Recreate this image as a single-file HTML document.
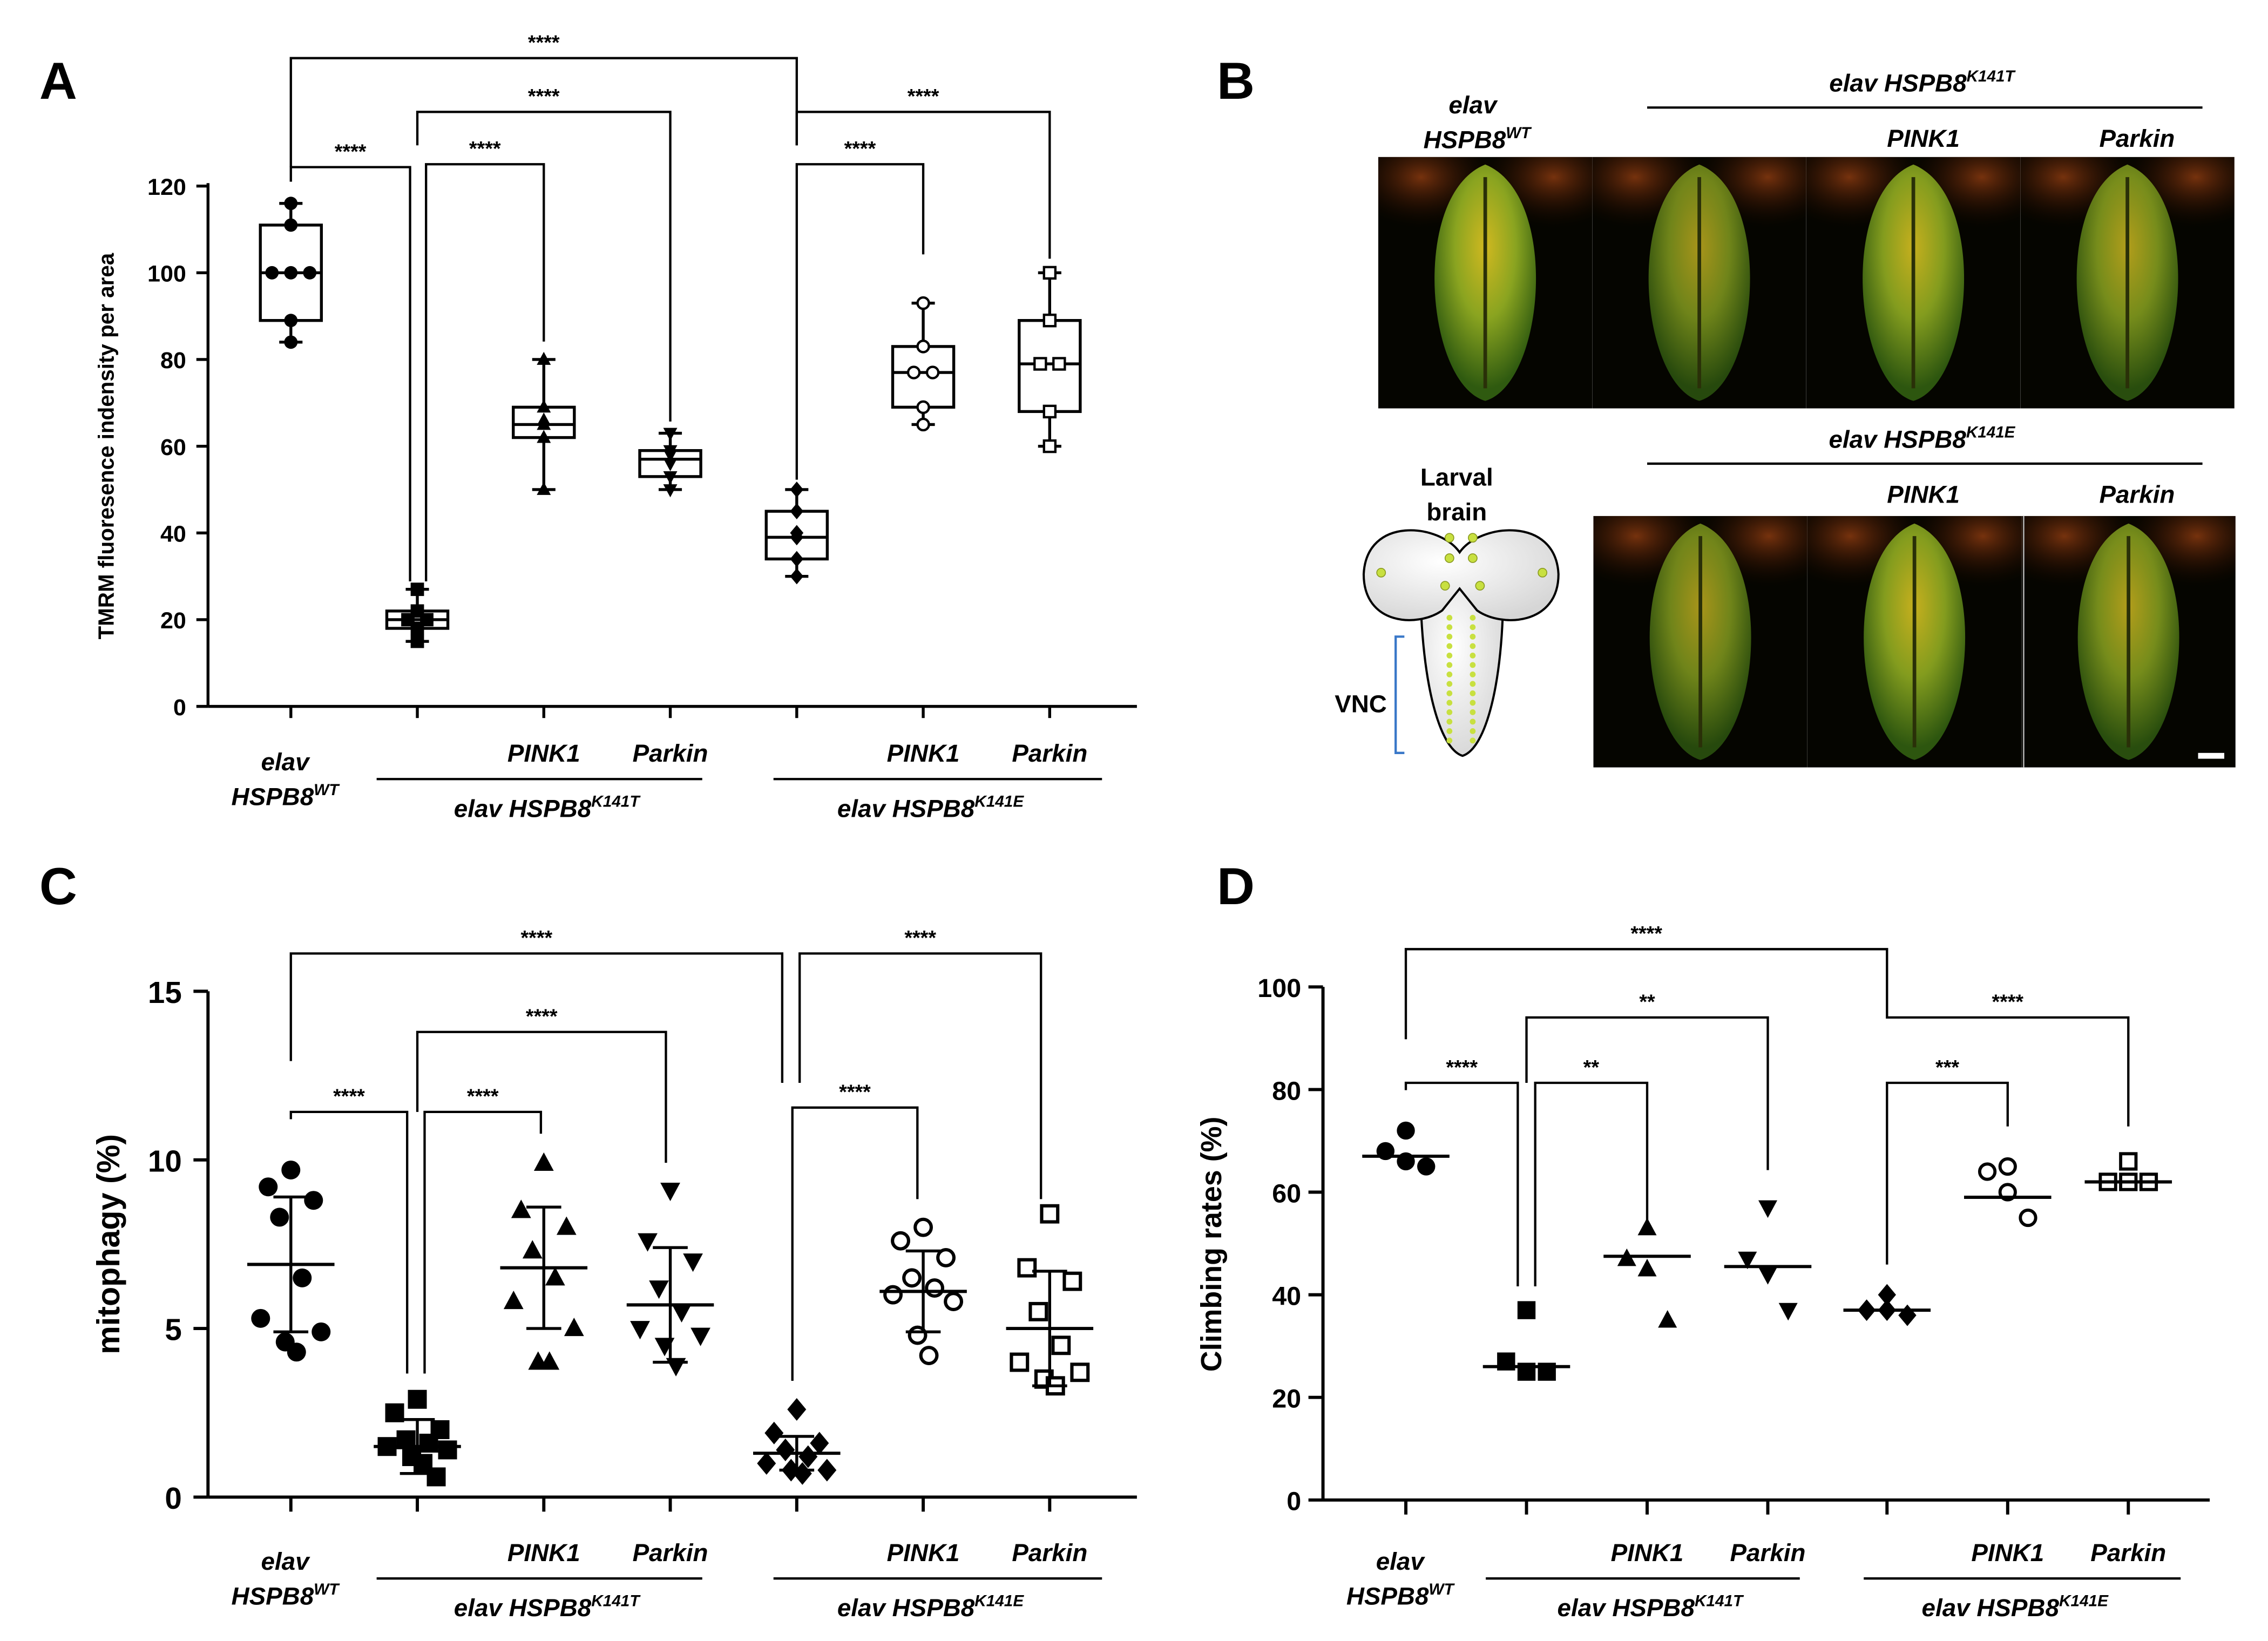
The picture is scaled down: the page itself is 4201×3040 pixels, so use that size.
<!DOCTYPE html>
<html><head><meta charset="utf-8">
<style>
html,body{margin:0;padding:0;background:#fff;}
svg{display:block;}
text{font-family:"Liberation Sans",Arial,sans-serif;font-weight:bold;fill:#000;}
</style></head>
<body>
<svg id="fig" width="4201" height="3040" viewBox="0 0 1560 1129" xmlns="http://www.w3.org/2000/svg">
<defs id="defs">
<radialGradient id="vnc" cx="50%" cy="35%" r="60%">
<stop offset="0" stop-color="#d0b820"/><stop offset="0.5" stop-color="#8aa420"/><stop offset="1" stop-color="#2f5a10"/>
</radialGradient>
<radialGradient id="redhalo" cx="50%" cy="50%" r="50%">
<stop offset="0" stop-color="#8a3a10" stop-opacity="0.85"/><stop offset="1" stop-color="#200800" stop-opacity="0"/>
</radialGradient>
<radialGradient id="lobe" cx="40%" cy="35%" r="70%">
<stop offset="0" stop-color="#ffffff"/><stop offset="1" stop-color="#d6d6d6"/>
</radialGradient>
</defs>
<g id="layer"></g>
</svg>
<script>
// ---------- data ----------
const groupsA = ["HSPB8WT","K141T","K141T PINK1","K141T Parkin","K141E","K141E PINK1","K141E Parkin"];
const boxMin = [84,15,50,50,30,65,60];
const boxQ1  = [89,18,62,53,34,69,68];
const boxMed = [100,20,65,57,39,77,79];
const boxQ3  = [111,22,69,59,45,83,89];
const boxMax = [116,27,80,63,50,93,100];
const pointsA = [
 [116,111,100,100,100,89,84],
 [27,22,20,20,18,15],
 [80,69,66,65,62,50],
 [63,59,58,56,53,50],
 [50,45,40,39,34,30],
 [93,83,77,77,69,65],
 [100,89,79,79,68,60]
];
const ticksA = [0,20,40,60,80,100,120];
const pointsC = [
 [9.7,9.2,8.8,8.3,6.5,5.3,4.9,4.6,4.3],
 [2.9,2.5,2.0,1.7,1.6,1.5,1.4,1.2,1.0,0.6],
 [9.9,8.5,8.0,7.3,6.5,5.8,5.0,4.0,4.0],
 [9.1,7.6,7.0,6.2,5.5,5.0,4.8,4.5,3.9],
 [2.6,1.9,1.6,1.4,1.2,1.0,0.8,0.8,0.7],
 [8.0,7.6,7.1,6.5,6.2,6.0,5.8,4.8,4.2],
 [8.4,6.8,6.4,5.5,4.5,4.0,3.7,3.5,3.3]
];
const meanC = [6.9,1.5,6.8,5.7,1.3,6.1,5.0];
const sdC   = [2.0,0.8,1.8,1.7,0.5,1.2,1.7];
const ticksC = [0,5,10,15];
const pointsD = [
 [72,68,66,65],
 [37,27,25,25],
 [53,47,45,35],
 [57,47,44,37],
 [40,37,37,36],
 [65,64,60,55],
 [66,62,62,62]
];
const meanD = [67,26,47.5,45.5,37,59,62];
const ticksD = [0,20,40,60,80,100];
const markers = ["circle","square","triangle","invtriangle","diamond","ocircle","osquare"];

const NS="http://www.w3.org/2000/svg";
const layer=document.getElementById("layer");
const defs=document.getElementById("defs");
function mk(tag,attrs,parent){const e=document.createElementNS(NS,tag);for(const k in attrs)e.setAttribute(k,attrs[k]);(parent||layer).appendChild(e);return e;}
function txt(x,y,s,size,opts,parent){opts=opts||{};const t=mk("text",Object.assign({x:x,y:y,"font-size":size,"text-anchor":opts.anchor||"middle"},opts.extra||{}),parent);
 if(opts.italic)t.setAttribute("font-style","italic");t.textContent=s;return t;}
function line(x1,y1,x2,y2,w,parent){return mk("line",{x1:x1,y1:y1,x2:x2,y2:y2,stroke:"#000","stroke-width":w||2},parent);}
function marker(type,x,y,r,parent){
 const f="#000";let e;
 if(type==="circle")e=mk("circle",{cx:x,cy:y,r:r,fill:f},parent);
 else if(type==="ocircle")e=mk("circle",{cx:x,cy:y,r:r*0.85,fill:"#fff",stroke:f,"stroke-width":r*0.35},parent);
 else if(type==="square")e=mk("rect",{x:x-r,y:y-r,width:2*r,height:2*r,fill:f},parent);
 else if(type==="osquare")e=mk("rect",{x:x-r*0.85,y:y-r*0.85,width:1.7*r,height:1.7*r,fill:"#fff",stroke:f,"stroke-width":r*0.35},parent);
 else if(type==="triangle")e=mk("polygon",{points:`${x},${y-r*1.15} ${x-r*1.05},${y+r*0.8} ${x+r*1.05},${y+r*0.8}`,fill:f},parent);
 else if(type==="invtriangle")e=mk("polygon",{points:`${x},${y+r*1.15} ${x-r*1.05},${y-r*0.8} ${x+r*1.05},${y-r*0.8}`,fill:f},parent);
 else e=mk("polygon",{points:`${x},${y-r*1.2} ${x+r},${y} ${x},${y+r*1.2} ${x-r},${y}`,fill:f},parent);
 return e;
}
function bracket(x1,x2,yt,y1,y2,label,parent,fs){
 const p=mk("path",{d:`M${x1},${y1} V${yt} H${x2} V${y2}`,fill:"none",stroke:"#000","stroke-width":1.6},parent);
 
 
 const t=txt((x1+x2)/2,yt-6,label,fs||14,{},parent);
 
 
}
function groupLabels(xs,yBase,parent,fs){
 txt(xs[0]-4,yBase,"elav",fs,{italic:true},parent);
 const b=mk("text",{x:xs[0]-4,y:yBase+24,"font-size":fs,"text-anchor":"middle","font-style":"italic"},parent);
 b.innerHTML='HSPB8<tspan font-size="'+(fs*0.65)+'" dy="-7">WT</tspan>';
 txt(xs[2],yBase-6,"PINK1",fs,{italic:true},parent);
 txt(xs[3],yBase-6,"Parkin",fs,{italic:true},parent);
 txt(xs[5],yBase-6,"PINK1",fs,{italic:true},parent);
 txt(xs[6],yBase-6,"Parkin",fs,{italic:true},parent);
 line(xs[1]-28,yBase+6,xs[3]+22,yBase+6,1.6,parent);
 line(xs[4]-16,yBase+6,xs[6]+36,yBase+6,1.6,parent);
 const c=mk("text",{x:(xs[1]+xs[3])/2+2,y:yBase+32,"font-size":fs,"text-anchor":"middle","font-style":"italic"},parent);
 c.innerHTML='elav HSPB8<tspan font-size="'+(fs*0.65)+'" dy="-7">K141T</tspan>';
 const d=mk("text",{x:(xs[4]+xs[6])/2+5,y:yBase+32,"font-size":fs,"text-anchor":"middle","font-style":"italic"},parent);
 d.innerHTML='elav HSPB8<tspan font-size="'+(fs*0.65)+'" dy="-7">K141E</tspan>';
}
const jit=[0,-12,12,-6,6,-16,16,-3,3,10];

// ---------- Panel A ----------
(function(){
 const g=mk("g",{});
 const xs=[200,287,374,461,548,635,722];
 const y0=486,yTop=128,vmax=120;
 const Y=v=>y0-(v/vmax)*(y0-yTop);
 txt(40,68,"A",36,{},g);
 line(143,yTop-2,143,y0,2,g);line(143,y0,782,y0,2,g);
 ticksA.forEach(t=>{line(135,Y(t),143,Y(t),2,g);const e=txt(128,Y(t)+6,String(t),16,{anchor:"end"},g);});
 xs.forEach(x=>line(x,y0,x,y0+8,2,g));
 const yt=txt(0,0,"TMRM fluoresence indensity per area",15,{extra:{transform:"translate(78,307) rotate(-90)"}},g);
 
 groupsA.forEach((name,i)=>{
  const x=xs[i],w=21;
  line(x,Y(boxMax[i]),x,Y(boxQ3[i]),2,g);line(x,Y(boxMin[i]),x,Y(boxQ1[i]),2,g);
  line(x-8,Y(boxMax[i]),x+8,Y(boxMax[i]),2,g);line(x-8,Y(boxMin[i]),x+8,Y(boxMin[i]),2,g);
  const b=mk("rect",{x:x-w,y:Y(boxQ3[i]),width:2*w,height:Y(boxQ1[i])-Y(boxQ3[i]),fill:"none",stroke:"#000","stroke-width":2},g);
  
  line(x-w,Y(boxMed[i]),x+w,Y(boxMed[i]),2,g);
  const pts=pointsA[i];
  const cnt={};
  pts.forEach(v=>{cnt[v]=(cnt[v]||0)+1;});
  const seen={};
  pts.forEach(v=>{
   const n=cnt[v];seen[v]=(seen[v]||0);const k=seen[v]++;
   const off=n>1?(k-(n-1)/2)*13:0;
   const m=marker(markers[i],x+off,Y(v),4.6,g);
   
  });
 });
 bracket(200,548,40,115,100,"****",g);
 bracket(200,282,115,125,400,"****",g);
 bracket(287,461,77,100,290,"****",g);
 bracket(293,374,113,400,235,"****",g);
 bracket(548,722,77,100,178,"****",g);
 bracket(548,635,113,330,175,"****",g);
 groupLabels(xs,530,g,17);
})();

// ---------- Panel C ----------
(function(){
 const g=mk("g",{});
 const xs=[200,287,374,461,548,635,722];
 const y0=1030,yTop=682,vmax=15;
 const Y=v=>y0-(v/vmax)*(y0-yTop);
 txt(40,622,"C",36,{},g);
 line(143,yTop,143,y0,2.2,g);line(143,y0,782,y0,2.2,g);
 ticksC.forEach(t=>{line(133,Y(t),143,Y(t),2.2,g);const e=txt(125,Y(t)+8,String(t),21,{anchor:"end"},g);});
 xs.forEach(x=>line(x,y0,x,y0+10,2.2,g));
 const yt=txt(0,0,"mitophagy (%)",22,{extra:{transform:"translate(82,856) rotate(-90)"}},g);
 
 pointsC.forEach((pts,i)=>{
  const x=xs[i];
  pts.forEach((v,j)=>{const m=marker(markers[i],x+jit[j%jit.length]*1.3,Y(v),6.5,g);});
  const m=line(x-30,Y(meanC[i]),x+30,Y(meanC[i]),2.2,g);
  line(x,Y(meanC[i]-sdC[i]),x,Y(meanC[i]+sdC[i]),2,g);
  line(x-12,Y(meanC[i]+sdC[i]),x+12,Y(meanC[i]+sdC[i]),2,g);
  line(x-12,Y(meanC[i]-sdC[i]),x+12,Y(meanC[i]-sdC[i]),2,g);
 });
 bracket(200,538,656,730,745,"****",g);
 bracket(200,280,765,770,945,"****",g);
 bracket(287,458,710,765,800,"****",g);
 bracket(292,372,765,945,780,"****",g);
 bracket(550,716,656,745,825,"****",g);
 bracket(545,631,762,950,825,"****",g);
 groupLabels(xs,1080,g,17);
})();

// ---------- Panel D ----------
(function(){
 const g=mk("g",{});
 const xs=[967,1050,1133,1216,1298,1381,1464];
 const y0=1032,yTop=679,vmax=100;
 const Y=v=>y0-(v/vmax)*(y0-yTop);
 txt(850,622,"D",36,{},g);
 line(910,yTop,910,y0,2.2,g);line(910,y0,1520,y0,2.2,g);
 ticksD.forEach(t=>{line(900,Y(t),910,Y(t),2.2,g);const e=txt(895,Y(t)+7,String(t),18,{anchor:"end"},g);});
 xs.forEach(x=>line(x,y0,x,y0+10,2.2,g));
 const yt=txt(0,0,"Climbing rates (%)",20,{extra:{transform:"translate(840,856) rotate(-90)"}},g);
 
 pointsD.forEach((pts,i)=>{
  const x=xs[i];
  pts.forEach((v,j)=>{const m=marker(markers[i],x+(j===0?0:[-14,0,14][(j-1)%3]),Y(v),6.2,g);});
  const m=line(x-30,Y(meanD[i]),x+30,Y(meanD[i]),2.2,g);
 });
 bracket(967,1298,653,715,685,"****",g);
 bracket(967,1044,745,750,885,"****",g);
 bracket(1050,1216,700,745,805,"**",g);
 bracket(1056,1133,745,885,840,"**",g);
 bracket(1298,1464,700,685,775,"****",g);
 bracket(1298,1381,745,870,775,"***",g);
 groupLabels(xs,1080,g,17);
})();

// ---------- Panel B ----------
(function(){
 const g=mk("g",{});
 txt(850,68,"B",36,{},g);
 txt(1013,78,"elav",17,{italic:true},g);
 const h=mk("text",{x:1016,y:102,"font-size":17,"text-anchor":"middle","font-style":"italic"},g);
 h.innerHTML='HSPB8<tspan font-size="11" dy="-7">WT</tspan>';
 const t1=mk("text",{x:1322,y:63,"font-size":17,"text-anchor":"middle","font-style":"italic"},g);
 t1.innerHTML='elav HSPB8<tspan font-size="11" dy="-7">K141T</tspan>';
 line(1133,74,1515,74,1.6,g);
 txt(1323,101,"PINK1",17,{italic:true},g);txt(1470,101,"Parkin",17,{italic:true},g);
 const t2=mk("text",{x:1322,y:308,"font-size":17,"text-anchor":"middle","font-style":"italic"},g);
 t2.innerHTML='elav HSPB8<tspan font-size="11" dy="-7">K141E</tspan>';
 line(1133,319,1515,319,1.6,g);
 txt(1323,346,"PINK1",17,{italic:true},g);txt(1470,346,"Parkin",17,{italic:true},g);
 let cid=0;
 function tile(x,y,w,hh,name,tone){
  const id="clip"+(cid++);
  const cp=mk("clipPath",{id:id},defs);mk("rect",{x:x,y:y,width:w,height:hh},cp);
  const tg=mk("g",{"clip-path":"url(#"+id+")"},g);
  mk("rect",{x:x,y:y,width:w,height:hh,fill:"#050500"},tg);
  mk("ellipse",{cx:x+w*0.2,cy:y+hh*0.08,rx:w*0.35,ry:hh*0.2,fill:"url(#redhalo)"},tg);
  mk("ellipse",{cx:x+w*0.82,cy:y+hh*0.08,rx:w*0.35,ry:hh*0.2,fill:"url(#redhalo)"},tg);
  mk("path",{d:`M${x+w*0.5},${y+hh*0.03} C${x+w*0.15},${y+hh*0.15} ${x+w*0.22},${y+hh*0.9} ${x+w*0.5},${y+hh*0.97} C${x+w*0.78},${y+hh*0.9} ${x+w*0.85},${y+hh*0.15} ${x+w*0.5},${y+hh*0.03} Z`,fill:"url(#vnc)",opacity:tone},tg);
  mk("line",{x1:x+w*0.5,y1:y+hh*0.08,x2:x+w*0.5,y2:y+hh*0.92,stroke:"#2a3008","stroke-width":2.5},tg);
 }
 const tw=147.25;
 ["tile-wt","tile-k141t","tile-k141t-pink1","tile-k141t-parkin"].forEach((n,i)=>tile(948+i*tw,108,tw,173,n,[1,0.8,0.95,0.85][i]));
 ["tile-k141e","tile-k141e-pink1","tile-k141e-parkin"].forEach((n,i)=>tile(1096+i*tw,355,tw,173,n,[0.8,0.95,0.85][i]));
 line(1392,355,1392,528,1,g).setAttribute("stroke","#aaa");
 mk("rect",{x:1512,y:518,width:18,height:4,fill:"#fff"},g);
 txt(1002,334,"Larval",17,{},g);txt(1002,358,"brain",17,{},g);
 const bg=mk("g",{},g);
 mk("path",{d:"M977,405 C978,470 990,515 1006,520 C1022,515 1034,470 1034,405 Z",fill:"url(#lobe)",stroke:"#000","stroke-width":1.5},bg);
 mk("path",{d:"M1004,380 C990,360 940,355 938,395 C938,430 975,432 992,420 L1004,405 L1016,420 C1033,432 1072,430 1072,395 C1070,355 1018,360 1004,380 Z",fill:"url(#lobe)",stroke:"#000","stroke-width":1.5},bg);
 for(let k=0;k<14;k++){mk("circle",{cx:997,cy:425+k*6.5,r:2,fill:"#c8e040"},bg);mk("circle",{cx:1013,cy:425+k*6.5,r:2,fill:"#c8e040"},bg);}
 [[997,384],[1013,384],[994,403],[1018,403],[950,394],[1061,394],[997,370],[1013,370]].forEach(p=>mk("circle",{cx:p[0],cy:p[1],r:3,fill:"#c8e040",stroke:"#8a9a20","stroke-width":0.6},bg));
 mk("path",{d:"M966,438 H960 V518 H966",fill:"none",stroke:"#3a78c8","stroke-width":1.6},bg);
 txt(936,490,"VNC",17,{},g);
})();
</script>
</body></html>
